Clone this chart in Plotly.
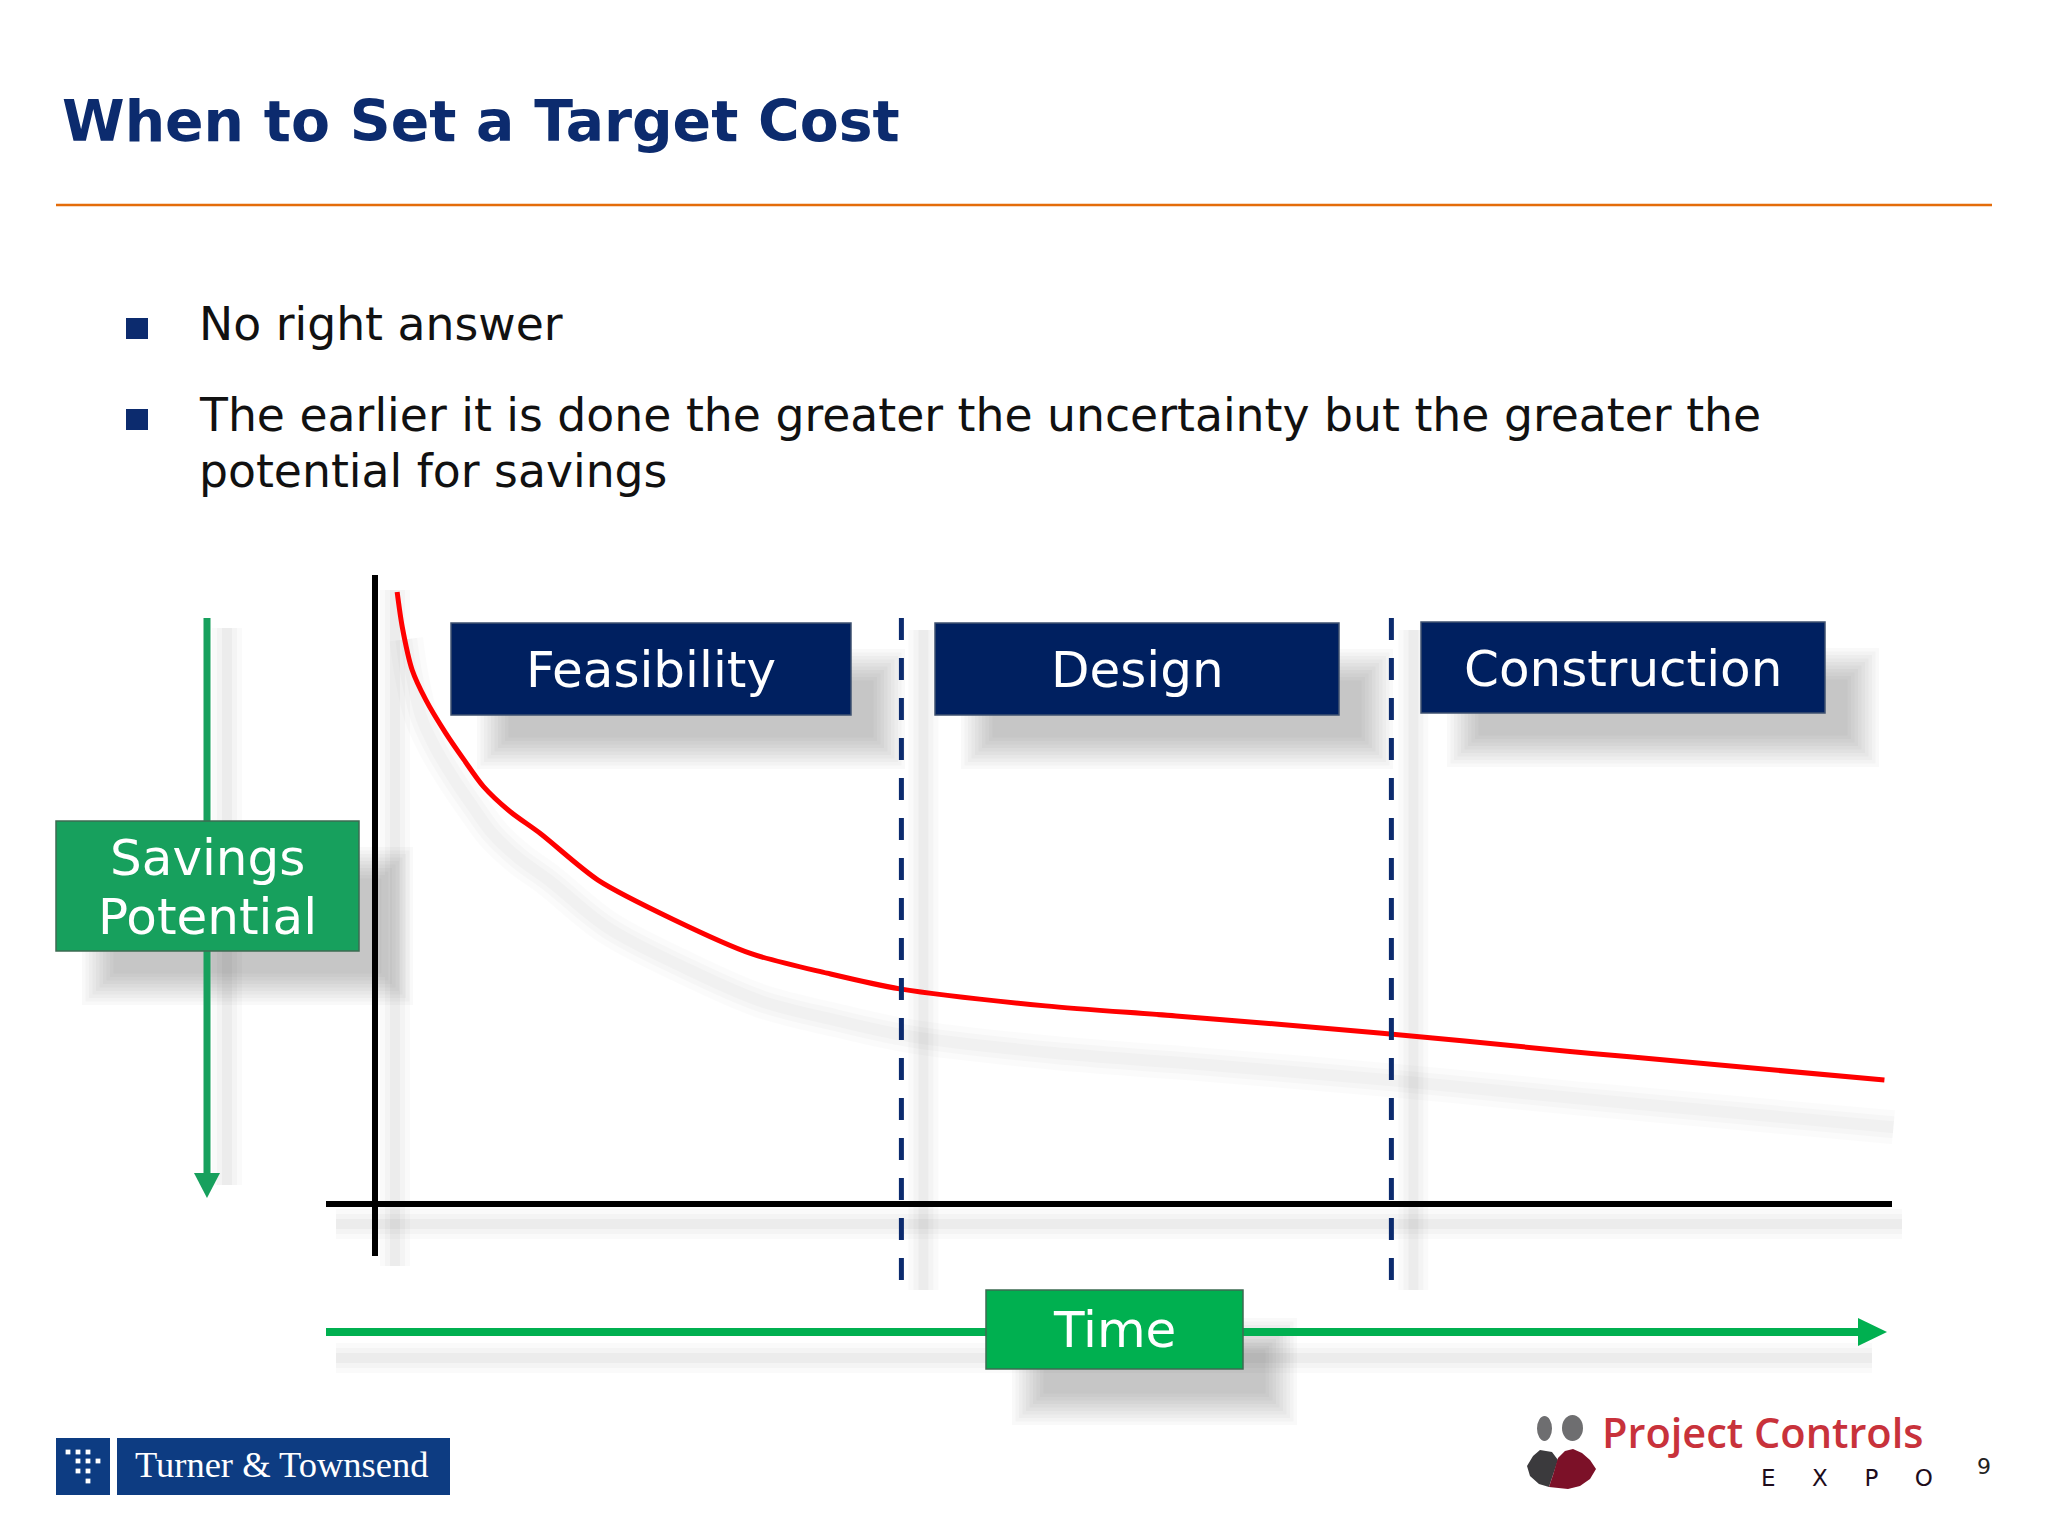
import plotly.graph_objects as go

# ---------------- data ----------------
title_text = "When to Set a Target Cost"
bullet_lines = ["No right answer",
                "The earlier it is done the greater the uncertainty but the greater the",
                "potential for savings"]
phase_names = ["Feasibility", "Design", "Construction"]
phase_bounds = [34.7, 67.0]          # time at which phases change
y_axis_label = ["Savings", "Potential"]
x_axis_label = "Time"

# savings-potential curve (time 0-100, savings 0-100)
curve_time = [1.46, 1.8, 2.45, 3.36, 4.65, 5.87, 7.14, 8.9, 10.9, 14.7, 19.7,
              24.8, 29.8, 34.6, 44.2, 52.8, 66.2, 78.6, 82.7, 99.5]
curve_savings = [97.3, 91.7, 84.9, 80.1, 74.9, 70.6, 66.4, 62.4, 58.9, 51.5, 45.2,
                 39.8, 36.7, 34.2, 31.5, 29.9, 27.2, 24.3, 23.4, 19.7]

footer_left = "Turner & Townsend"
footer_right_1 = "Project Controls"
footer_right_2 = "E X P O"
page_number = "9"

# ---------------- geometry helpers ----------------
W, H = 2048, 1536
X0_PX, X100_PX = 375, 1892      # time 0 / 100 in pixels
Y0_PX, Y100_PX = 1204, 575      # savings 0 / 100 in pixels
xs = (X100_PX - X0_PX) / 100.0
ys = (Y0_PX - Y100_PX) / 100.0
x_range = [-X0_PX / xs, (W - X0_PX) / xs]
y_range = [-(H - Y0_PX) / ys, Y0_PX / ys]


def X(p):
    return p / W


def Y(p):
    return 1 - p / H


def t_of(px):
    return (px - X0_PX) / xs


def s_of(py):
    return (Y0_PX - py) / ys


NAVY = "#002060"
TITLE_NAVY = "#0c2b6e"
GREEN_V = "#17a05d"
GREEN_T = "#00b050"

shapes = []
annotations = []


def rect(x0, y0, x1, y1, fill, lc=None, lw=0, layer="above"):
    shapes.append(dict(type="rect", xref="paper", yref="paper",
                       x0=X(x0), x1=X(x1), y0=Y(y1), y1=Y(y0),
                       fillcolor=fill, layer=layer,
                       line=dict(width=lw, color=lc or fill)))


def shadow(x0, y0, x1, y1, dx=40, dy=40, n=10, step=3.5, alpha=0.025):
    for k in range(n):
        e = (k - n / 2) * step
        rect(x0 + dx - e, y0 + dy - e, x1 + dx + e, y1 + dy + e,
             "rgba(0,0,0,%.3f)" % alpha, layer="below")


def pline(x0, y0, x1, y1, color, width, dash=None, layer="above"):
    d = dict(type="line", xref="paper", yref="paper",
             x0=X(x0), x1=X(x1), y0=Y(y0), y1=Y(y1), layer=layer,
             line=dict(color=color, width=width))
    if dash:
        d["line"]["dash"] = dash
    shapes.append(d)


def line_shadow(x0, y0, x1, y1, dx, dy):
    for w, a in [(30, 0.02), (20, 0.025), (10, 0.03)]:
        pline(x0 + dx, y0 + dy, x1 + dx, y1 + dy, "rgba(0,0,0,%.3f)" % a, w, layer="below")


def path(points, fill, close=True):
    s = "M " + " L ".join("%.5f,%.5f" % (X(a), Y(b)) for a, b in points)
    if close:
        s += " Z"
    shapes.append(dict(type="path", xref="paper", yref="paper", path=s,
                       fillcolor=fill, line=dict(width=0), layer="above"))


def text(x, y, s, size, color, family="DejaVu Sans", xanchor="left", weight=None, pad=1):
    f = dict(size=size, color=color, family=family)
    if weight:
        f["weight"] = weight
    annotations.append(dict(xref="paper", yref="paper", x=X(x), y=Y(y), text=s,
                            showarrow=False, xanchor=xanchor, yanchor="middle",
                            borderpad=pad, font=f))


# ---------------- header ----------------
text(60, 121, "<b>%s</b>" % title_text, 56.8, TITLE_NAVY)
pline(56, 205, 1992, 205, "#e46c0a", 2.5)

rect(126, 318, 148, 339, TITLE_NAVY)
rect(126, 409, 148, 430, TITLE_NAVY)
text(197, 324, bullet_lines[0], 45.7, "#111111")
text(197, 415, bullet_lines[1], 45.7, "#111111")
text(197, 471, bullet_lines[2], 45.7, "#111111")

# ---------------- chart area ----------------
fig = go.Figure()

# shadows of axes and phase lines
line_shadow(X0_PX, 580, X0_PX, 1256, 20, 10)
line_shadow(326, Y0_PX, 1892, Y0_PX, 10, 20)
for b in phase_bounds:
    bx = X0_PX + b * xs
    line_shadow(bx, 620, bx, 1280, 22, 10)

# curve shadow + curve
sh_t = [t + 0.6 for t in curve_time]
sh_s = [s - 7.5 for s in curve_savings]
for w, a in [(34, 0.014), (22, 0.018), (12, 0.02)]:
    fig.add_trace(go.Scatter(x=sh_t, y=sh_s, mode="lines",
                             line=dict(color="rgba(0,0,0,%.3f)" % a, width=w, shape="spline"),
                             hoverinfo="skip", showlegend=False))
fig.add_trace(go.Scatter(x=curve_time, y=curve_savings, mode="lines",
                         line=dict(color="#ff0000", width=5, shape="spline", smoothing=0.8),
                         hoverinfo="skip", showlegend=False))

# axes lines (data coordinates)
shapes.append(dict(type="line", xref="x", yref="y", x0=0, x1=0, y0=s_of(1256), y1=100,
                   line=dict(color="#000000", width=6), layer="above"))
shapes.append(dict(type="line", xref="x", yref="y", x0=t_of(326), x1=100, y0=0, y1=0,
                   line=dict(color="#000000", width=6), layer="above"))

# phase boundary dashed lines
for b in phase_bounds:
    shapes.append(dict(type="line", xref="x", yref="y", x0=b, x1=b, y0=s_of(1280), y1=s_of(607),
                       line=dict(color=TITLE_NAVY, width=5, dash="22px,18px"), layer="above"))

# phase boxes
phase_boxes = [(451, 623, 851, 715), (935, 623, 1339, 715), (1421, 622, 1825, 713)]
for (x0, y0, x1, y1), name in zip(phase_boxes, phase_names):
    shadow(x0, y0, x1, y1)
    rect(x0, y0, x1, y1, NAVY, "#3f5270", 1.5)
    text((x0 + x1) / 2, (y0 + y1) / 2 + 1, name, 50, "#ffffff", xanchor="center")

# vertical green arrow + savings box
line_shadow(207, 618, 207, 1175, 20, 10)
pline(207, 618, 207, 1176, GREEN_V, 7)
path([(194, 1173), (220, 1173), (207, 1198)], GREEN_V)
shadow(56, 821, 359, 951)
rect(56, 821, 359, 951, GREEN_V, "#3d6b52", 1.5)
text(207, 858, y_axis_label[0], 50, "#ffffff", xanchor="center")
text(207, 917, y_axis_label[1], 50, "#ffffff", xanchor="center")

# horizontal time arrow + time box
line_shadow(326, 1332, 1862, 1332, 10, 26)
pline(326, 1332, 1862, 1332, GREEN_T, 8)
path([(1858, 1318), (1858, 1346), (1887, 1332)], GREEN_T)
shadow(986, 1290, 1243, 1369, dx=40, dy=42)
rect(986, 1290, 1243, 1369, GREEN_T, "#3d6b52", 1.5)
text(1114.5, 1330, x_axis_label, 50, "#ffffff", xanchor="center")

# ---------------- footer ----------------
TT = "#0d3c82"
rect(56, 1438, 110, 1495, TT)
dots = [(68, 1452), (78, 1452), (88, 1452),
        (78, 1461), (88, 1461), (98, 1461),
        (78, 1471), (88, 1471),
        (88, 1481)]
for cx, cy in dots:
    rect(cx - 2.4, cy - 2.4, cx + 2.4, cy + 2.4, "#ffffff")
rect(117, 1438, 450, 1495, TT)
text(282, 1464, footer_left, 36.5, "#ffffff", family="Liberation Serif", xanchor="center")

# Project Controls logo icon
shapes.append(dict(type="circle", xref="paper", yref="paper", x0=X(1537), x1=X(1552),
                   y0=Y(1441), y1=Y(1416), fillcolor="#6e6e70", line=dict(width=0)))
shapes.append(dict(type="circle", xref="paper", yref="paper", x0=X(1562), x1=X(1583),
                   y0=Y(1441), y1=Y(1415), fillcolor="#6e6e70", line=dict(width=0)))
path([(1540, 1450), (1533, 1456), (1527, 1466), (1530, 1476), (1539, 1484), (1549, 1487),
      (1553, 1475), (1558, 1460), (1552, 1452)], "#3b3a3d")
path([(1558, 1458), (1565, 1451), (1573, 1449), (1582, 1453), (1590, 1460), (1596, 1469),
      (1590, 1479), (1580, 1486), (1568, 1489), (1549, 1487), (1553, 1475)], "#7c1128")

text(1601, 1432, footer_right_1, 41.5, "#c8323b", family="Open Sans", weight=600, pad=0)
expo = footer_right_2.replace(" ", "\u00a0" * 5)
text(1760, 1478, expo, 23, "#1e0c1c", family="DejaVu Sans", pad=0)
text(1984, 1466, page_number, 22, "#222222", family="DejaVu Sans", xanchor="center")

fig.update_layout(
    width=W, height=H, margin=dict(l=0, r=0, t=0, b=0),
    paper_bgcolor="#ffffff", plot_bgcolor="rgba(0,0,0,0)",
    xaxis=dict(range=x_range, domain=[0, 1], visible=False, fixedrange=True),
    yaxis=dict(range=y_range, domain=[0, 1], visible=False, fixedrange=True),
    shapes=shapes, annotations=annotations, showlegend=False,
)

fig.write_html("out.html", config={"displayModeBar": False},
               post_script="document.body.style.margin='0';document.body.style.overflow='hidden';")
